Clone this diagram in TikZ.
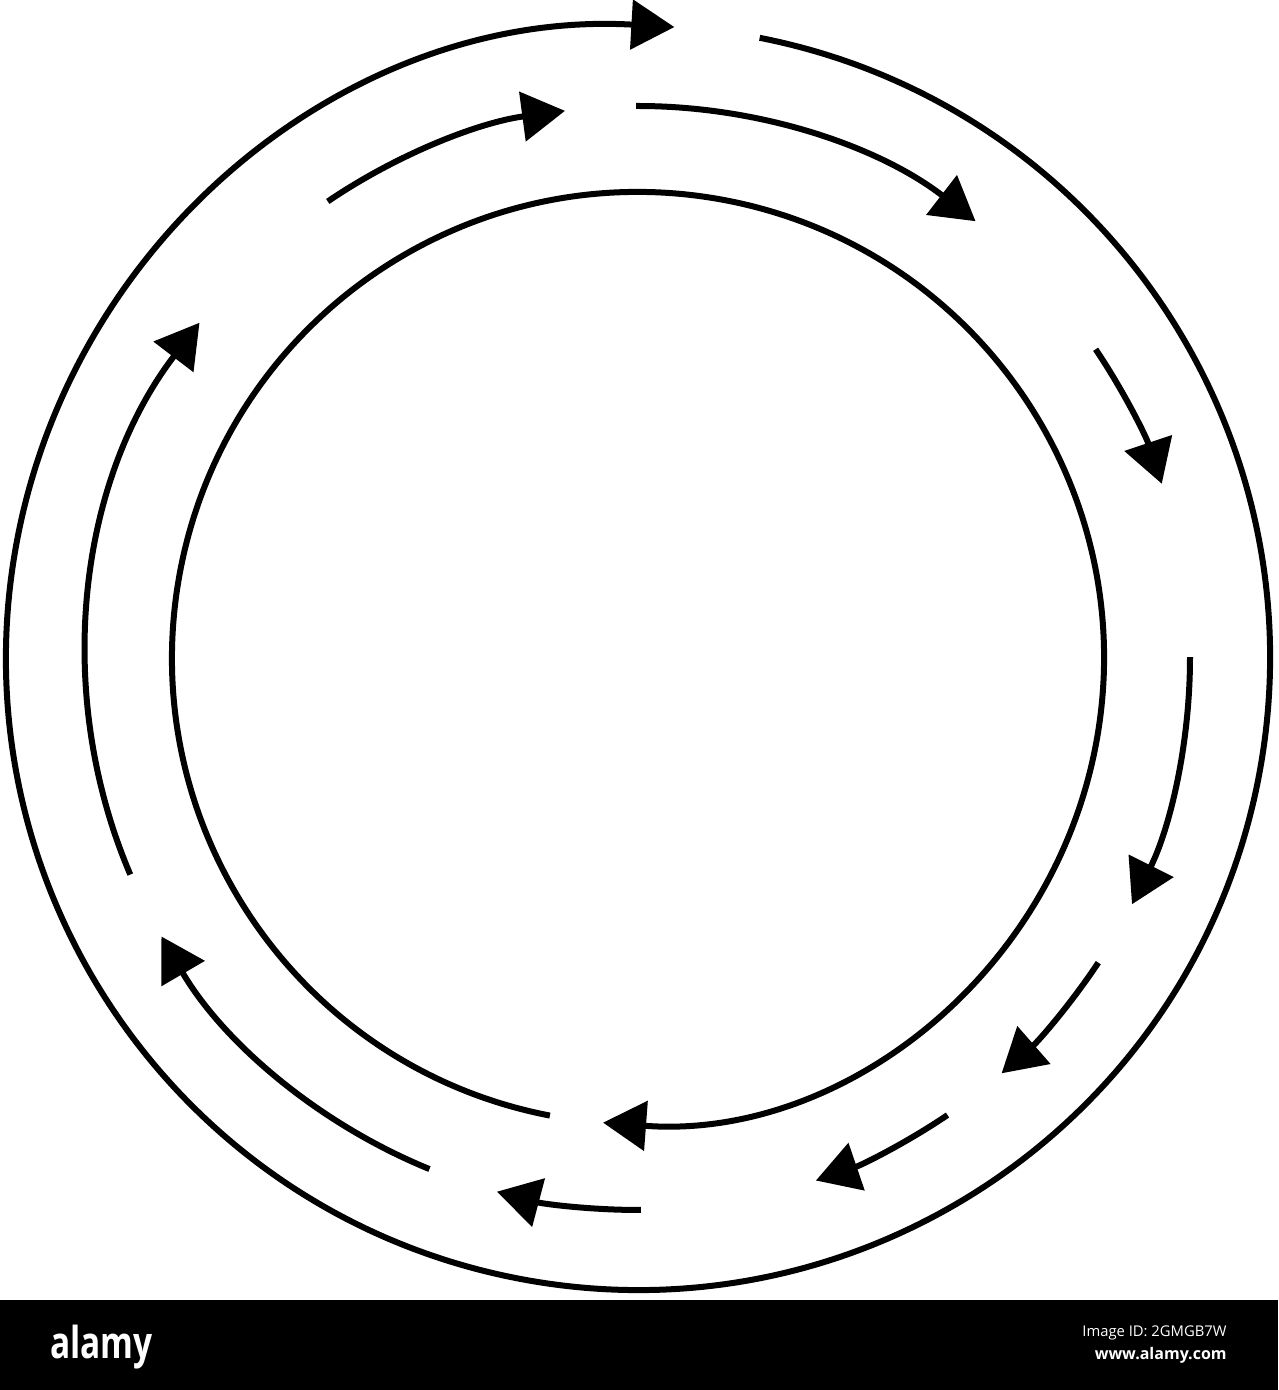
\documentclass[tikz,border=0pt]{standalone}
\usepackage{fontspec}
\newfontfamily\markfont{Open Sans}
\usetikzlibrary{arrows.meta}
\tikzset{
  ring/.style={draw=black, line width=3pt},
  flowArc/.style={ring, -{Triangle[length=21.5pt, width=24.5pt]}},
  footBar/.style={fill=black, draw=none},
  footText/.style={text=white, inner sep=0pt}
}

\begin{document}
\begin{tikzpicture}[x=0.5pt, y=0.5pt]
  \useasboundingbox (0,0) rectangle (1278,1390);
  \coordinate (c) at (638,732);
  % outer ring, inner ring
  \draw[flowArc] (c) ++(78.9:632) arc[start angle=78.9, end angle=-273.3, radius=632];
  \draw[flowArc] (c) ++(259.1:466) arc[start angle=259.1, end angle=-94.3, radius=466];
  % middle ring of short arrows
  \draw[flowArc] (c) ++(124.2:552) arc[start angle=124.2, end angle=97.6, radius=552];
  \draw[flowArc] (c) ++(90.2:552) arc[start angle=90.2, end angle=52.3, radius=552];
  \draw[flowArc] (c) ++(34.0:552) arc[start angle=34.0, end angle=18.4, radius=552];
  \draw[flowArc] (c) ++(0.1:552) arc[start angle=0.1, end angle=-26.5, radius=552];
  \draw[flowArc] (c) ++(-33.5:552) arc[start angle=-33.5, end angle=-48.8, radius=552];
  \draw[flowArc] (c) ++(-55.9:552) arc[start angle=-55.9, end angle=-71.2, radius=552];
  \draw[flowArc] (c) ++(-89.7:552) arc[start angle=-89.7, end angle=-104.8, radius=552];
  \draw[flowArc] (c) ++(-112.2:552) arc[start angle=-112.2, end angle=-149.7, radius=552];
  \draw[flowArc] (c) ++(203.1:552) arc[start angle=203.1, end angle=142.6, radius=552];
  % footer
  \fill[footBar] (0,0) rectangle (1278,90);
  \node[footText, anchor=base west, xscale=.76, font=\markfont\bfseries\fontsize{22pt}{22pt}\selectfont] (logo) at (50,32) {alamy};
  \node[footText, anchor=base east, font=\markfont\fontsize{7.4pt}{8pt}\selectfont] (imageId) at (1227,53) {Image ID: 2GMGB7W};
  \node[footText, anchor=base east, font=\markfont\bfseries\fontsize{8pt}{9pt}\selectfont] (siteUrl) at (1227,30) {www.alamy.com};
\end{tikzpicture}
\end{document}
